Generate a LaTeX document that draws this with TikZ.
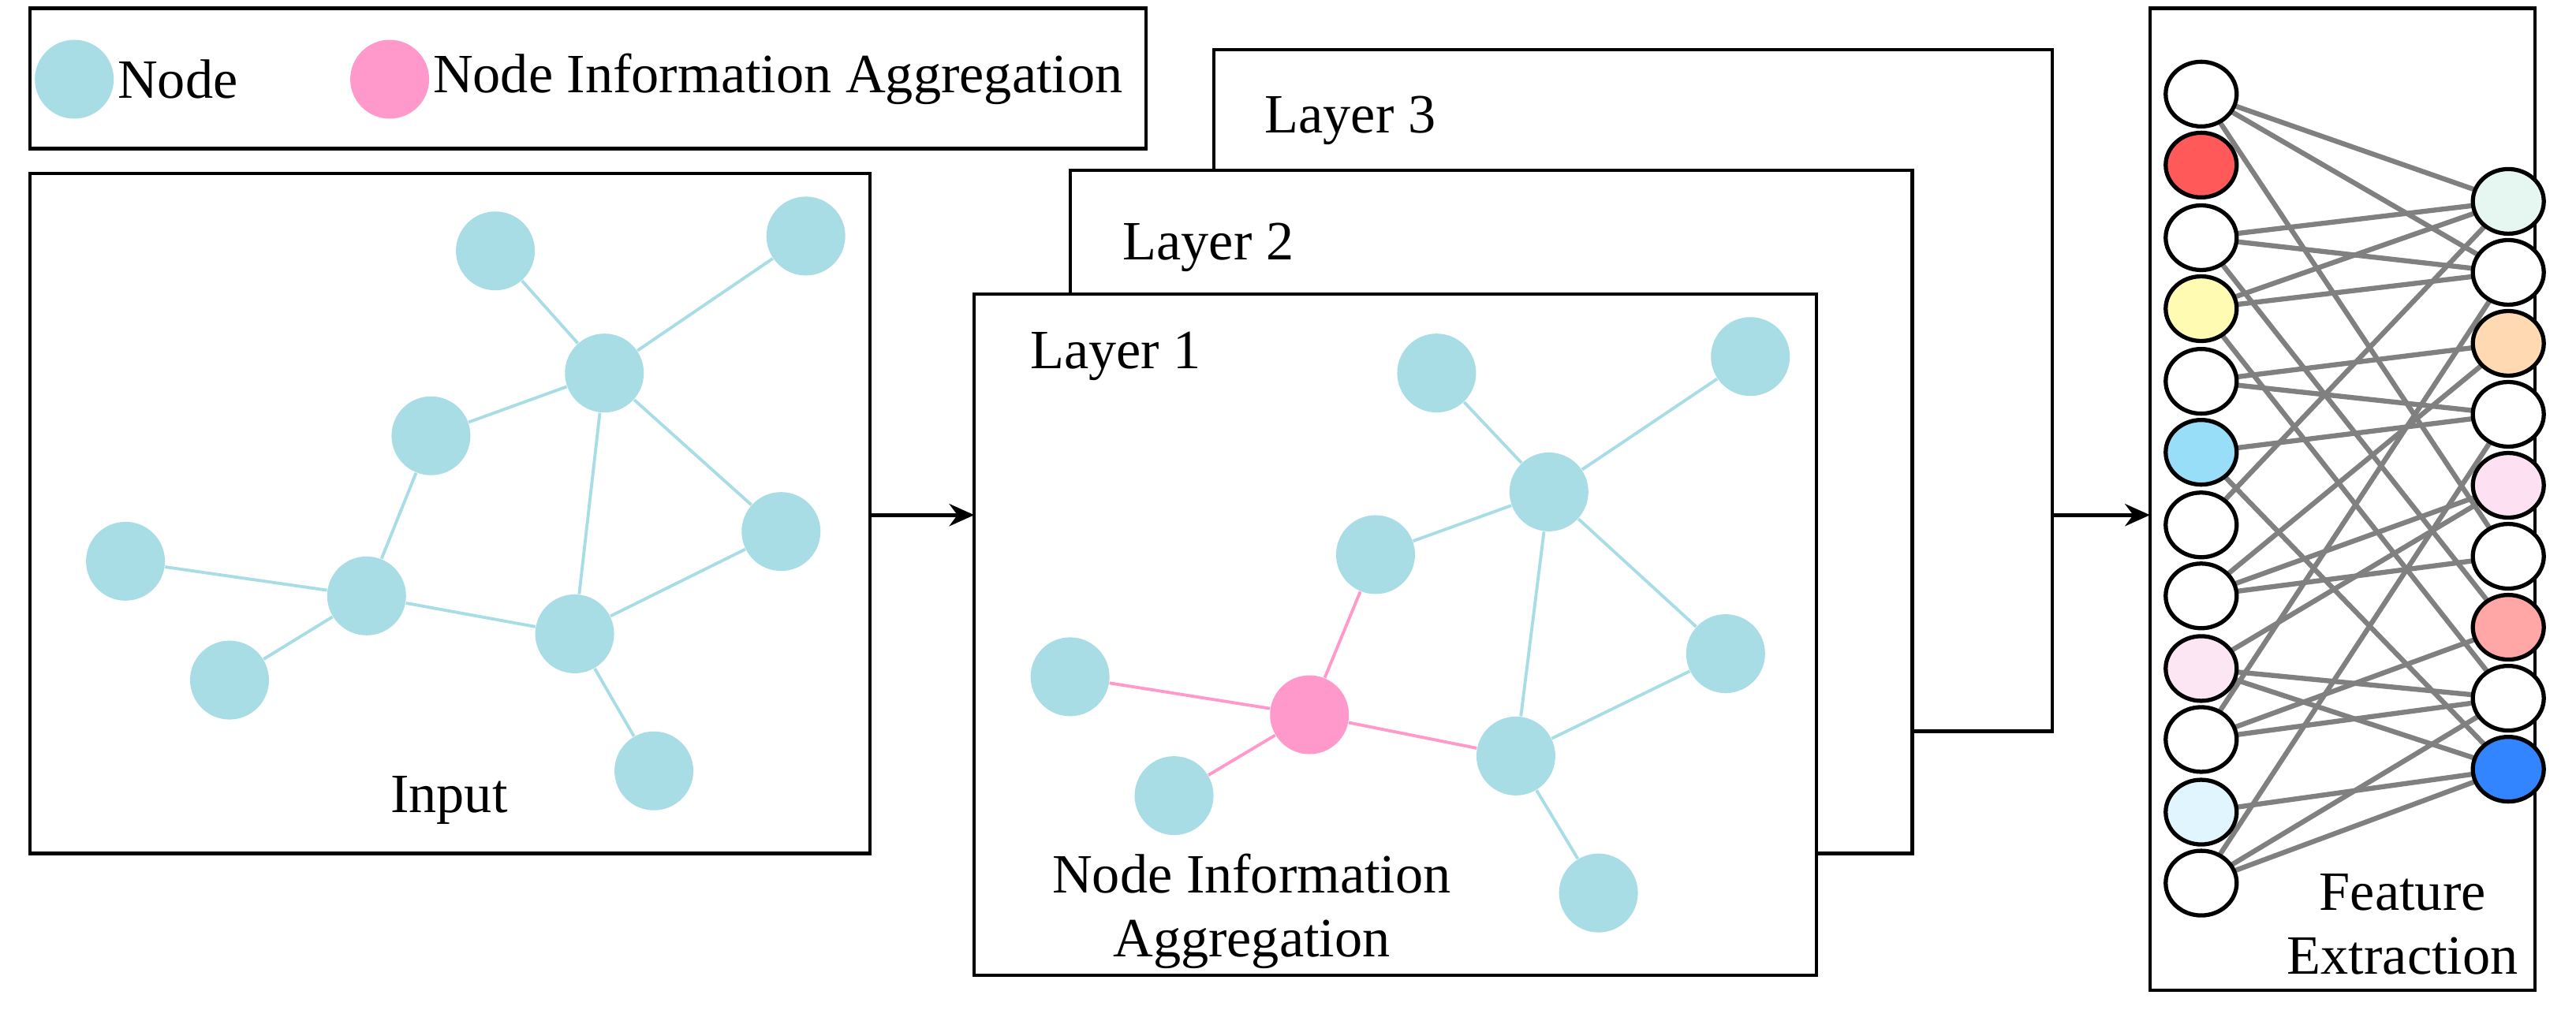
\documentclass[tikz,border=0pt]{standalone}
\usepackage{fontspec}
\setmainfont{Liberation Serif}
\usetikzlibrary{arrows.meta}
\usetikzlibrary{shapes.geometric}
\definecolor{nblue}{HTML}{A8DDE6}
\definecolor{npink}{HTML}{FF99CC}
\begin{document}
\begin{tikzpicture}[x=0.02094cm, y=-0.02094cm, >={Stealth[length=9pt, width=8pt]}, font=\fontsize{20}{23}\selectfont,
    gnode/.style = {circle, fill=nblue, minimum size=1cm, inner sep=0pt},
    pnode/.style = {circle, fill=npink, minimum size=1cm, inner sep=0pt},
    gedge/.style = {nblue, line width=1.1pt},
    pedge/.style = {npink, line width=1.1pt},
    frame/.style = {draw, fill=white, line width=1.2pt},
    fnode/.style = {ellipse, draw, line width=1.5pt, minimum width=0.9cm, minimum height=0.82cm, inner sep=0pt},
    fedge/.style = {gray, line width=1.8pt},
    flow/.style = {->, line width=1.5pt}]
    \useasboundingbox (0,0) rectangle (1560,618.5);
    % Legend
    \draw[line width=1.2pt] (18,5) rectangle (694,90);
    \node[gnode] (leg1) at (45,48) {};
    \node[anchor=west, inner sep=1pt] at (leg1.east) {Node};
    \node[pnode] (leg2) at (236,48) {};
    \node[anchor=west, inner sep=1pt] at (leg2.east) {Node Information Aggregation};

    % Input
    \draw[frame] (18,105) rectangle (527,517);
    \node at (272,485) {Input};
    \foreach \n/\x/\y in {a/300/152, b/488/143, c/366/226, d/261/264, e/76/340,
        f/473/322, g/222/361, h/348/384, i/139/412, j/396/467}
        \node[gnode] (in\n) at (\x,\y) {};
    \foreach \u/\v in {b/c, a/c, c/d, c/h, c/f, d/g, e/g, g/i, g/h, h/f, h/j}
        \draw[gedge] (in\u) -- (in\v);

    % Layers
    \draw[frame] (735,30) rectangle (1243,443);
    \node[anchor=west] at (760,73) {Layer 3};
    \draw[frame] (648,103) rectangle (1158,517);
    \node[anchor=west] at (674,150) {Layer 2};
    \draw[frame] (590,178) rectangle (1100,591);
    \node[anchor=west] at (618,216) {Layer 1};
    \foreach \n/\x/\y in {a/870/226, b/1060/216, c/938/298, d/833/336, e/648/410,
        f/1045/396, h/918/458, i/711/482, j/968/541}
        \node[gnode] (ly\n) at (\x,\y) {};
    \node[pnode] (lyg) at (793,433) {};
    \foreach \u/\v in {b/c, a/c, c/d, c/h, c/f, h/f, h/j}
        \draw[gedge] (ly\u) -- (ly\v);
    \foreach \u in {d, e, i, h}
        \draw[pedge] (ly\u) -- (lyg);
    \node[align=center] at (758,552) {Node Information\\Aggregation};

    % Feature extraction
    \draw[frame] (1302,5) rectangle (1535,600);
    \foreach \y [count=\k] in {57,100,144,187,231,274,318,361,405,448,492,535}
        \coordinate (lp\k) at (1333,\y);
    \foreach \y [count=\k] in {122,165,208,251,294,337,380,423,466}
        \coordinate (rp\k) at (1519,\y);
    \foreach \u/\v in {1/1, 1/2, 1/6, 3/1, 3/2, 3/7, 4/1, 4/2, 4/8, 5/3, 5/4, 6/4, 6/9,
        7/1, 8/3, 8/5, 8/6, 9/5, 9/8, 9/9, 10/2, 10/7, 10/8, 11/9, 12/4, 12/8, 12/9}
        \draw[fedge] (lp\u) -- (rp\v);
    \foreach \c [count=\k] in {white, red!65!white, white, yellow!30, white, cyan!40!white,
        white, white, magenta!10, white, cyan!12, white}
        \node[fnode, fill=\c] (l\k) at (lp\k) {};
    \foreach \c [count=\k] in {cyan!45!green!10!white, white, orange!30, white, magenta!12,
        white, red!35!white, white, blue!60!cyan!80!white}
        \node[fnode, fill=\c] (r\k) at (rp\k) {};
    \node[align=center] at (1455,560) {Feature\\Extraction};

    % Arrows
    \coordinate (s1) at (527,312);
    \coordinate (t1) at (590,312);
    \coordinate (s2) at (1243,312);
    \coordinate (t2) at (1302,312);
    \draw[flow] (s1) -- (t1);
    \draw[flow] (s2) -- (t2);
\end{tikzpicture}
\end{document}
